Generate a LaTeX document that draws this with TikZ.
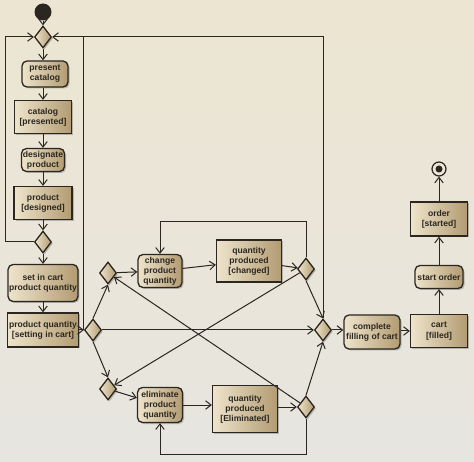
\documentclass[tikz,border=0pt]{standalone}
\usepackage{fontspec}
\setmainfont{Liberation Sans}
\usetikzlibrary{shapes.geometric, arrows.meta, shadows}

\definecolor{bgtop}{HTML}{ECE5D1}
\definecolor{bgbot}{HTML}{E7E5E0}
\definecolor{boxlight}{HTML}{EEE4CB}
\definecolor{boxdark}{HTML}{B29B72}
\definecolor{edge}{HTML}{2B2720}

\tikzset{
  base/.style={draw=edge, line width=1.3pt, left color=boxlight, right color=boxdark,
    text=edge, font=\bfseries\fontsize{8.6}{10.2}\selectfont, align=center, inner sep=1pt,
    drop shadow={shadow xshift=1.5pt, shadow yshift=-1.5pt, opacity=0.5}},
  action/.style={base, rectangle, rounded corners=5pt},
  objbox/.style={base, rectangle},
  decision/.style={base, diamond, minimum width=17pt, minimum height=22pt, inner sep=0pt},
  flow/.style={-{Straight Barb[length=5.5pt, width=8.5pt]}, draw=edge, line width=1pt},
}

\begin{document}
\begin{tikzpicture}[x=1pt,y=-1pt]
\fill[top color=bgtop, bottom color=bgbot] (0,0) rectangle (474,462);
\useasboundingbox (0,0) rectangle (474,462);

% left column
\node[circle, fill=edge, minimum size=17pt, inner sep=0pt] (start) at (43,12) {};
\node[decision] (d1) at (43,37) {};
\node[action, minimum width=46pt, minimum height=26pt] (pcat) at (45,74) {present\\catalog};
\node[objbox, minimum width=57pt, minimum height=33pt] (catp) at (43,117) {catalog\\{[presented]}};
\node[action, minimum width=43pt, minimum height=23pt] (desig) at (43,160) {designate\\product};
\node[objbox, minimum width=58pt, minimum height=33pt] (prodd) at (43,203) {product\\{[designed]}};
\node[decision] (dloop) at (43,242) {};
\node[action, minimum width=69pt, minimum height=37pt] (setq) at (43,283) {set in cart\\product quantity};
\node[objbox, minimum width=71pt, minimum height=34pt] (pqs) at (43,330) {product quantity\\{[setting in cart]}};
\node[decision] (dq) at (93,330) {};

% change branch
\node[decision] (dchg) at (108,273) {};
\node[action, minimum width=44pt, minimum height=33pt] (chg) at (160,271) {change\\product\\quantity};
\node[objbox, minimum width=65pt, minimum height=42pt] (qpc) at (249,261) {quantity\\produced\\{[changed]}};
\node[decision] (dchg2) at (306,269) {};

% eliminate branch
\node[decision] (ddel) at (108,389) {};
\node[action, minimum width=45pt, minimum height=35pt] (elim) at (160,405) {eliminate\\product\\quantity};
\node[objbox, minimum width=65pt, minimum height=47pt] (qpe) at (245,409) {quantity\\produced\\{[Eliminated]}};
\node[decision] (ddel2) at (306,407) {};

% right part
\node[decision] (merge) at (323,330) {};
\node[action, minimum width=56pt, minimum height=34pt] (compl) at (372,332) {complete\\filling of cart};
\node[objbox, minimum width=57pt, minimum height=33pt] (cartf) at (439,331) {cart\\{[filled]}};
\node[action, minimum width=48pt, minimum height=23pt] (sord) at (439,277) {start order};
\node[objbox, minimum width=57pt, minimum height=34pt] (ords) at (439,219) {order\\{[started]}};
\node[circle, draw=edge, line width=1.2pt, minimum size=14pt, inner sep=0pt] (endn) at (439,169) {};
\fill[edge] (endn) circle (3.5pt);

\draw[flow] (start) -- (d1);
\draw[flow] (d1) -- (d1 |- pcat.north);
\draw[flow] (pcat.south -| d1) -- (catp);
\draw[flow] (catp) -- (desig);
\draw[flow] (desig) -- (prodd);
\draw[flow] (prodd) -- (dloop);
\draw[flow] (dloop) -- (setq);
\draw[flow] (dloop.west) -- (5,242) |- (d1.west);
\draw[flow] (setq) -- (pqs);
\draw[flow] (pqs) -- (dq);
\draw[line width=1pt, draw=edge] (dq.west) -- (83,330) -- (83,37);
\draw[flow] (merge.north) |- (d1.east);
\draw[flow] (dq.north) -- (dchg.south);
\draw[flow] (dq.south) -- (ddel.north);
\draw[flow] (dq.east) -- (merge.west);
\draw[flow] (dchg) -- (chg);
\draw[flow] (chg) -- (qpc);
\draw[flow] (qpc) -- (dchg2);
\draw[flow] (dchg2.north) |- (chg.north |- 0,222) -- (chg.north);
\draw[flow] (dchg2.south) -- (merge.north);
\draw[flow] (dchg2) -- (ddel);
\draw[flow] (ddel2) -- (dchg);
\draw[flow] (ddel) -- (elim);
\draw[flow] (elim.east) -- (elim.east -| qpe.west);
\draw[flow] (qpe.east |- ddel2) -- (ddel2.west);
\draw[flow] (ddel2.south) |- (elim.south |- 0,454) -- (elim.south);
\draw[flow] (ddel2.north) -- (merge.south);
\draw[flow] (merge.east) -- (compl.west |- merge);
\draw[flow] (compl.east |- cartf) -- (cartf.west);
\draw[flow] (cartf) -- (sord);
\draw[flow] (sord) -- (ords);
\draw[flow] (ords) -- (endn);
\end{tikzpicture}
\end{document}
